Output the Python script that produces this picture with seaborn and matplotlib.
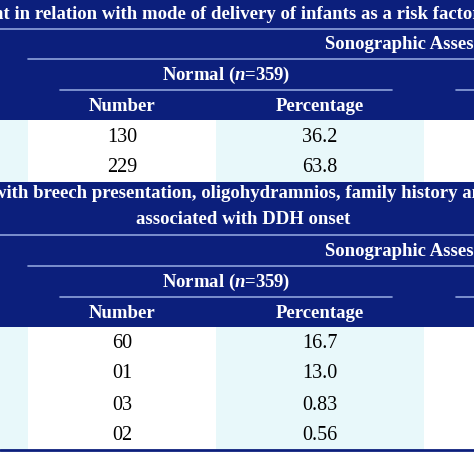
import matplotlib
matplotlib.use("Agg")
import matplotlib.pyplot as plt
import seaborn as sns
from matplotlib.patches import Rectangle

sns.set_theme(style="white")
plt.rcParams['font.family'] = ['Liberation Serif', 'DejaVu Serif']
plt.rcParams['mathtext.fontset'] = 'custom'
plt.rcParams['mathtext.it'] = 'Liberation Serif:italic:bold'
plt.rcParams['mathtext.rm'] = 'Liberation Serif:bold'

title1 = "nt in relation with mode of delivery of infants as a risk factor"
title2a = "with breech presentation, oligohydramnios, family history and"
title2b = "associated with DDH onset"
group_hdr = "Sonographic Asses"
sub_hdr = "Normal ($\\mathit{n}$=359)"
col_labels = ["Number", "Percentage"]
numbers1 = ["130", "229"]
percent1 = ["36.2", "63.8"]
numbers2 = ["60", "01", "03", "02"]
percent2 = ["16.7", "13.0", "0.83", "0.56"]

NAVY = "#0c1f7c"
LINE = "#8ea3dc"
CYAN = "#e8f8fa"
FS = 13.5

fig = plt.figure(figsize=(4.74, 4.74), dpi=100)
ax = fig.add_axes([0, 0, 1, 1])
ax.set_xlim(0, 474)
ax.set_ylim(474, 0)
ax.axis("off")

def rect(x0, y0, x1, y1, c):
    ax.add_patch(Rectangle((x0, y0), x1 - x0, y1 - y0, color=c, lw=0))

def hline(y, x0, x1, c=LINE, lw=1.2):
    ax.plot([x0, x1], [y, y], color=c, lw=lw)

def txt(x, y, s, bold=True, color="white", ha="center", fs=FS):
    ax.text(x, y, s, ha=ha, va="center", fontsize=fs, color=color,
            fontweight="bold" if bold else "normal", clip_on=True)

def header(y0):
    txt(474, y0 + 14, group_hdr, ha="right")
    hline(y0 + 29, 28, 474)
    txt(226, y0 + 45, sub_hdr)
    hline(y0 + 60, 60, 392)
    hline(y0 + 60, 456, 474)
    txt(122, y0 + 76, col_labels[0])
    txt(320, y0 + 76, col_labels[1])

def rows(y0, y1, nums, pcts, step, first):
    rect(0, y0, 474, y1, "white")
    rect(0, y0, 28, y1, CYAN)
    rect(216, y0, 424, y1, CYAN)
    for i, (n, p) in enumerate(zip(nums, pcts)):
        y = first + i * step
        txt(122, y, n, bold=False, color="black", fs=14.5)
        txt(320, y, p, bold=False, color="black", fs=14.5)

rect(0, 0, 474, 120, NAVY)
txt(237, 14, title1)
hline(29, 0, 474)
header(30)
rows(120, 182, numbers1, percent1, 30, 137)
rect(0, 182, 474, 327, NAVY)
txt(243, 194, title2a)
txt(243, 219, title2b)
hline(235, 0, 474)
header(237)
rows(327, 450, numbers2, percent2, 31, 343)
hline(450, 0, 474, c=NAVY, lw=2)

fig.savefig("out.png", dpi=100)
